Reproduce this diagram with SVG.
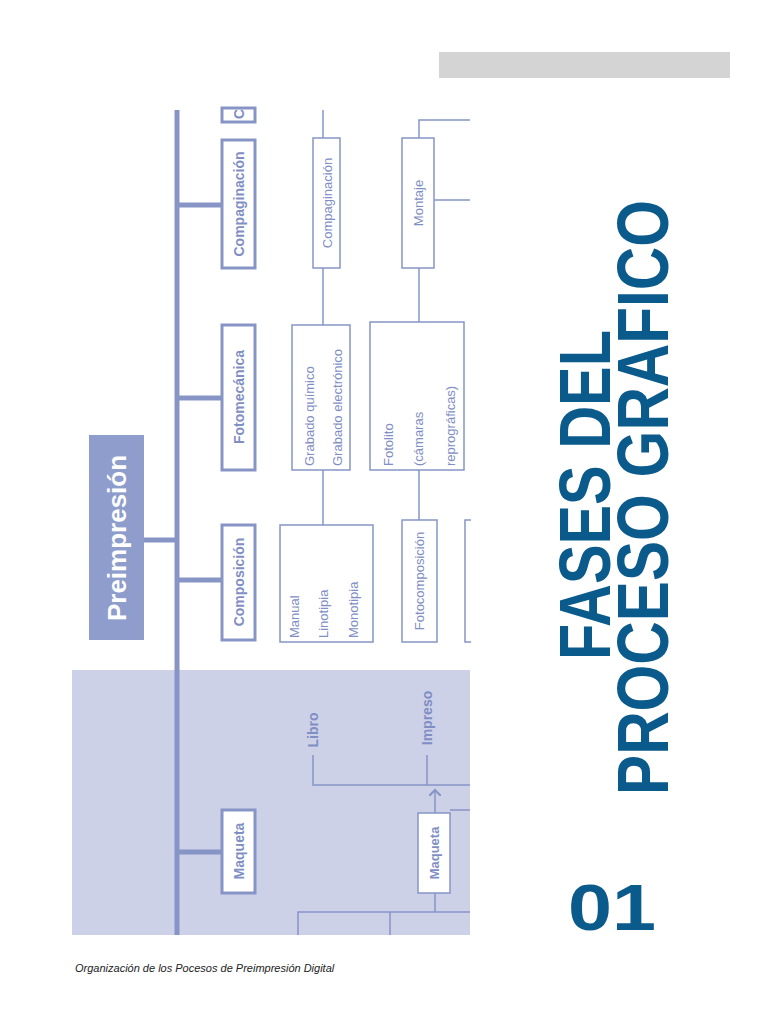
<svg xmlns="http://www.w3.org/2000/svg" width="768" height="1024" viewBox="0 0 768 1024">
<style>
.ln{stroke:#8795c6;fill:none;stroke-width:1.5}
.tk{stroke:#8795c6;fill:none;stroke-width:5}
.bx{fill:#fff;stroke:#8795c6;stroke-width:1.5}
.bb{fill:#fff;stroke:#8795c6;stroke-width:3}
.t{font-family:"Liberation Sans",sans-serif;fill:#7f8ec4;font-size:13px;text-anchor:middle;dominant-baseline:central}
.tb{font-family:"Liberation Sans",sans-serif;fill:#7f8ec4;font-size:14px;font-weight:bold;text-anchor:middle;dominant-baseline:central}
.ti{font-family:"Liberation Sans",sans-serif;fill:#0b5a8c;font-weight:bold}
</style>
<defs><marker id="ar" markerWidth="8" markerHeight="8" refX="4" refY="4" orient="auto"><path d="M0,0 L4,4 L0,8" fill="none" stroke="#8795c6" stroke-width="1.5"/></marker></defs>
<rect x="439" y="52" width="291" height="26" fill="#d4d4d4"/>
<rect id="shade" x="72" y="670" width="398" height="265" fill="#cdd1e8"/>
<g id="connectors">
<line class="tk" x1="177" y1="110" x2="177" y2="935"/>
<line class="tk" x1="144" y1="540" x2="177" y2="540"/>
<line class="tk" x1="177" y1="205" x2="222" y2="205"/>
<line class="tk" x1="177" y1="398" x2="222" y2="398"/>
<line class="tk" x1="177" y1="580" x2="222" y2="580"/>
<line class="tk" x1="177" y1="852" x2="222" y2="852"/>
<path class="ln" d="M323,110V138M323,268V325M323,470V525"/>
<path class="ln" d="M470,120H419V138M434,200H470M419,268V322M419,470V520"/>
<path class="ln" d="M313,755V785H470M427,755V785"/>
<line class="ln" x1="435" y1="813" x2="435" y2="790" marker-end="url(#ar)"/>
<path class="ln" d="M450,810H470M435,893V912M298,935V912H470M390,912V935"/>
</g>
<g id="preimpresion"><rect x="89" y="435" width="55" height="205" fill="#8e9dcb"/><text transform="translate(117,538) rotate(-90)" class="tb" style="fill:#fff;font-size:26px">Preimpresión</text></g>
<g id="n-c"><rect class="bb" x="222" y="108" width="33" height="14"/><text transform="translate(239,114) rotate(-90)" class="tb">C</text></g>
<g id="compaginacion1"><rect class="bb" x="222" y="140" width="33" height="128"/><text transform="translate(239,204) rotate(-90)" class="tb">Compaginación</text></g>
<g id="fotomecanica"><rect class="bb" x="222" y="325" width="33" height="145"/><text transform="translate(239,397) rotate(-90)" class="tb">Fotomecánica</text></g>
<g id="composicion"><rect class="bb" x="222" y="525" width="33" height="115"/><text transform="translate(239,582) rotate(-90)" class="tb">Composición</text></g>
<g id="maqueta1"><rect class="bb" x="222" y="810" width="33" height="83"/><text transform="translate(239,851) rotate(-90)" class="tb">Maqueta</text></g>
<g id="compaginacion2"><rect class="bx" x="313" y="138" width="27" height="130"/><text transform="translate(327,203) rotate(-90)" class="t">Compaginación</text></g>
<g id="grabado"><rect class="bx" x="292" y="325" width="58" height="145"/><text transform="translate(309,470) rotate(-90)" class="t" style="text-anchor:start" x="4">Grabado químico</text><text transform="translate(337,470) rotate(-90)" class="t" style="text-anchor:start" x="4">Grabado electrónico</text></g>
<g id="manual"><rect class="bx" x="280" y="525" width="93" height="117"/><text transform="translate(294,642) rotate(-90)" class="t" style="text-anchor:start" x="4">Manual</text><text transform="translate(323,642) rotate(-90)" class="t" style="text-anchor:start" x="4">Linotipia</text><text transform="translate(353,642) rotate(-90)" class="t" style="text-anchor:start" x="4">Monotipia</text></g>
<g id="montaje"><rect class="bx" x="402" y="138" width="32" height="130"/><text transform="translate(418,203) rotate(-90)" class="t">Montaje</text></g>
<g id="fotolito"><rect class="bx" x="370" y="322" width="94" height="148"/><text transform="translate(388,470) rotate(-90)" class="t" style="text-anchor:start" x="4">Fotolito</text><text transform="translate(418,470) rotate(-90)" class="t" style="text-anchor:start" x="4">(cámaras</text><text transform="translate(450,470) rotate(-90)" class="t" style="text-anchor:start" x="4">reprográficas)</text></g>
<g id="fotocomposicion"><rect class="bx" x="402" y="520" width="35" height="122"/><text transform="translate(419,581) rotate(-90)" class="t">Fotocomposición</text></g>
<g id="partial"><rect class="bx" x="465" y="520" width="12" height="122"/></g>
<g id="libro"><text transform="translate(313,730) rotate(-90)" class="tb">Libro</text></g>
<g id="impreso"><text transform="translate(427,718) rotate(-90)" class="tb">Impreso</text></g>
<g id="maqueta2"><rect class="bx" x="418" y="813" width="32" height="80"/><text transform="translate(434,853) rotate(-90)" class="t" style="font-weight:bold">Maqueta</text></g>
<rect x="471" y="100" width="40" height="850" fill="#fff"/>
<g id="title">
<text class="ti" transform="translate(610,660) rotate(-90)" font-size="72" textLength="330" lengthAdjust="spacingAndGlyphs">FASES DEL</text>
<text class="ti" transform="translate(668,795) rotate(-90)" font-size="72" textLength="595" lengthAdjust="spacingAndGlyphs">PROCESO GRAFICO</text>
<text class="ti" x="568" y="930" font-size="64" textLength="88" lengthAdjust="spacingAndGlyphs">01</text>
</g>
<text x="75" y="972" font-family="Liberation Sans,sans-serif" font-style="italic" font-size="11" fill="#222">Organización de los Pocesos de Preimpresión Digital</text>
</svg>
